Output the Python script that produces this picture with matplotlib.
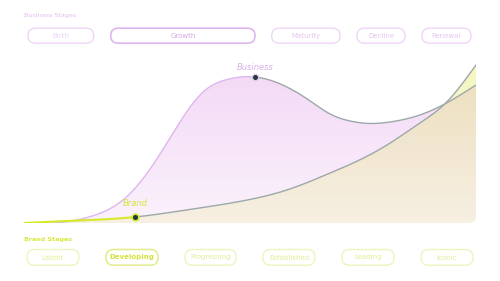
import numpy as np
import matplotlib
matplotlib.use("Agg")
import matplotlib.pyplot as plt
from matplotlib.patches import FancyBboxPatch, PathPatch
from matplotlib.path import Path

# ---------------- data ----------------
business_x = [0, 7.0, 10.0, 16.0, 22.0, 28.5, 34.5, 39.6, 45.0, 51.1, 58.2, 63.3, 67.7, 72.1, 76.5, 81.0, 87.6, 93.1, 100]
business_y = [0, 0, 1.0, 5.0, 14.0, 34.7, 60.5, 78.4, 86.0, 87.4, 81.4, 73.1, 65.3, 61.1, 59.6, 60.5, 64.7, 71.3, 82.6]
brand_x = [0, 9.5, 24.6, 34.5, 47.1, 58.2, 67.7, 72.8, 80.3, 87.6, 93.1, 100]
brand_y = [0, 1.2, 3.6, 7.2, 12.6, 19.8, 29.9, 35.9, 46.7, 59.9, 71.3, 94.6]
business_marker_idx = 9
brand_marker_idx = 2

business_stages = ["Birth", "Growth", "Maturity", "Decline", "Renewal"]
business_active = "Growth"
brand_stages = ["Latent", "Developing", "Progressing", "Established", "Leading", "Iconic"]
brand_active = "Developing"

# ---------------- helpers ----------------
def spline(xs, ys, n=600):
    """natural cubic spline through the read points (for smooth rendering)"""
    x = np.asarray(xs, float)
    y = np.asarray(ys, float)
    m = len(x)
    h = np.diff(x)
    A = np.zeros((m, m))
    rhs = np.zeros(m)
    A[0, 0] = A[-1, -1] = 1
    for i in range(1, m - 1):
        A[i, i - 1] = h[i - 1]
        A[i, i] = 2 * (h[i - 1] + h[i])
        A[i, i + 1] = h[i]
        rhs[i] = 6 * ((y[i + 1] - y[i]) / h[i] - (y[i] - y[i - 1]) / h[i - 1])
    M = np.linalg.solve(A, rhs)
    xx = np.linspace(x[0], x[-1], n)
    xx = np.unique(np.concatenate([xx, x]))
    k = np.clip(np.searchsorted(x, xx) - 1, 0, m - 2)
    t1 = x[k + 1] - xx
    t0 = xx - x[k]
    hk = h[k]
    yy = (M[k] * t1 ** 3 / (6 * hk) + M[k + 1] * t0 ** 3 / (6 * hk)
          + (y[k] / hk - M[k] * hk / 6) * t1 + (y[k + 1] / hk - M[k + 1] * hk / 6) * t0)
    return xx, np.maximum(yy, 0)

W, H = 500, 281
fig = plt.figure(figsize=(W / 100, H / 100), dpi=100)
fig.patch.set_facecolor("white")

L, R, T, B = 24, 476, 56, 223
ax = fig.add_axes([L / W, (H - B) / H, (R - L) / W, (B - T) / H])
ax.set_xlim(0, 100)
ax.set_ylim(0, 100)
ax.axis("off")

bx, by = spline(business_x, business_y)
rx, ry = spline(brand_x, brand_y)

def gradient_fill(x, y, rgb, a_top, a_bot, z):
    poly = ax.fill_between(x, 0, y, facecolor="none", edgecolor="none")
    path = poly.get_paths()[0]
    patch = PathPatch(path, facecolor="none", edgecolor="none", transform=ax.transData)
    ax.add_patch(patch)
    ny = 200
    alpha = np.linspace(a_top, a_bot, ny)[:, None]
    img = np.zeros((ny, 2, 4))
    img[..., 0], img[..., 1], img[..., 2] = rgb
    img[..., 3] = alpha
    im = ax.imshow(img, extent=[0, 100, 0, 100], aspect="auto", origin="upper",
                   zorder=z, interpolation="bilinear")
    im.set_clip_path(patch)

gradient_fill(bx, by, (0.92, 0.74, 0.94), 0.60, 0.20, 1)
gradient_fill(rx, ry, (0.90, 0.92, 0.45), 0.45, 0.18, 2)

# lines: coloured up to marker, grey after
bm = business_x[business_marker_idx]
rm = brand_x[brand_marker_idx]
grey = "#9ea8a8"
ax.plot(bx[bx <= bm], by[bx <= bm], color="#dfb6ee", lw=1.0, zorder=4, solid_capstyle="round")
ax.plot(bx[bx >= bm], by[bx >= bm], color=grey, lw=1.0, zorder=4)
ax.plot(rx[rx <= rm], ry[rx <= rm], color="#d6ea2a", lw=1.5, zorder=5, solid_capstyle="round")
ax.plot(rx[rx >= rm], ry[rx >= rm], color=grey, lw=1.0, zorder=4)

ax.plot([bm], [business_y[business_marker_idx]], "o", ms=4.4, mfc="#1f3b3c", mec="#e4c6f0",
        mew=0.8, zorder=6)
ax.plot([rm], [brand_y[brand_marker_idx]], "o", ms=4.8, mfc="#1f3b3c", mec="#d6ea2a",
        mew=1.1, zorder=6)

# ---------------- overlay for text / pills ----------------
ov = fig.add_axes([0, 0, 1, 1])
ov.set_xlim(0, W)
ov.set_ylim(H, 0)
ov.axis("off")
ov.patch.set_alpha(0)

# rounded bottom-right corner of plot area
r = 6
theta = np.linspace(0, np.pi / 2, 20)
arc = [(R - r + r * np.cos(t), B - r + r * np.sin(t)) for t in theta]
verts = [(R + 1, B - r)] + arc + [(R + 1, B + 1), (R + 1, B - r)]
ov.add_patch(PathPatch(Path(verts), facecolor="white", edgecolor="none", zorder=10))

ov.text(135, 203, "Brand", ha="center", va="center", fontsize=6, color="#d4e636",
        fontstyle="italic", family="DejaVu Sans", zorder=11)
ov.text(255, 67, "Business", ha="center", va="center", fontsize=6, color="#dcb0ea",
        fontstyle="italic", family="DejaVu Sans", zorder=11)

ov.text(24, 15.5, "Business Stages", ha="left", va="center", fontsize=4.6,
        color="#e2bcee", family="DejaVu Sans")
ov.text(24, 240, "Brand Stages", ha="left", va="center", fontsize=4.6,
        color="#d8e840", family="DejaVu Sans", fontweight="bold")

top_pills = [(24, 97.7), (106.7, 259), (267.7, 344), (353, 409), (418, 475)]
for (x0, x1), lab in zip(top_pills, business_stages):
    act = lab == business_active
    ov.add_patch(FancyBboxPatch((x0 + 4, 27.7 + 0.5), x1 - x0 - 8, 16 - 1,
                                boxstyle="round,pad=0,rounding_size=7.5",
                                facecolor="white",
                                edgecolor="#deb6ee" if act else "#f0d6f6",
                                lw=1.2 if act else 1.0))
    ov.text((x0 + x1) / 2, 35.8, lab, ha="center", va="center", fontsize=5,
            color="#d4a6e4" if act else ("#eed6f6" if lab == "Birth" else "#e6c6f0"),
            family="DejaVu Sans")

bot_pills = [(23, 83), (102, 162), (181, 240), (259, 319), (338, 398), (417, 477)]
for (x0, x1), lab in zip(bot_pills, brand_stages):
    act = lab == brand_active
    ov.add_patch(FancyBboxPatch((x0 + 4, 249 + 0.5), x1 - x0 - 8, 16.7 - 1,
                                boxstyle="round,pad=0,rounding_size=7.5",
                                facecolor="white",
                                edgecolor="#e2ec88" if act else "#eef4bc",
                                lw=1.1 if act else 1.0))
    ov.text((x0 + x1) / 2, 257.5, lab, ha="center", va="center", fontsize=5,
            color="#d6e23c" if act else "#e4ec98", family="DejaVu Sans",
            fontweight="bold" if act else "normal")

fig.savefig("out.png", dpi=100, facecolor="white")
